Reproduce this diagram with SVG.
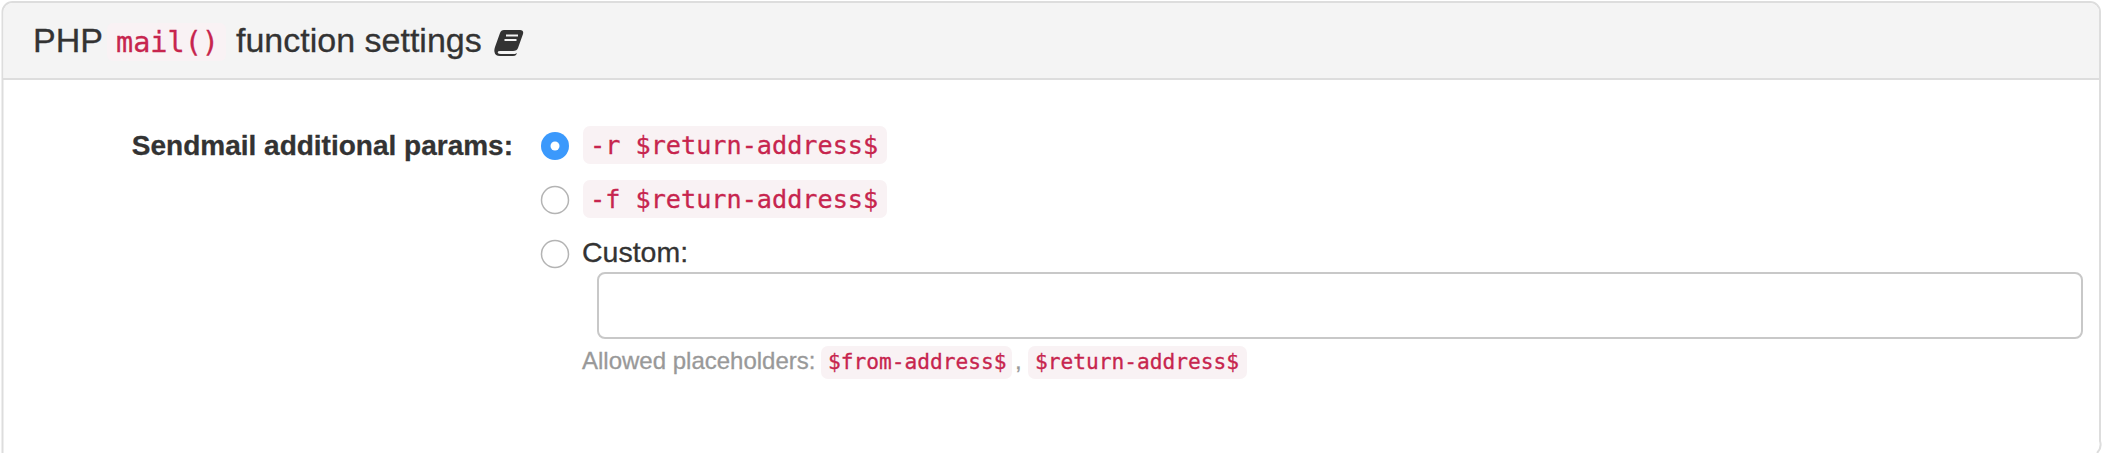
<svg xmlns="http://www.w3.org/2000/svg" width="2103" height="453" viewBox="0 0 2103 453">
<style>
.s{font-family:"Liberation Sans",Arial,sans-serif;fill:#333;stroke:#333;stroke-width:.3px}
.m{font-family:"DejaVu Sans Mono",monospace;fill:#c7254e;stroke:#c7254e;stroke-width:.3px;font-size:25.2px}
.g{fill:#999;stroke:#999}
.c{fill:#f9f2f4}
.r{fill:#fff;stroke:#b4b4b4;stroke-width:1.5}
</style>
<rect width="2103" height="453" fill="#fff"/>
<path d="M2.500 453V12a10 10 0 0 1 10-10H2090a10 10 0 0 1 10 10V441a12 12 0 0 1-3 12" fill="#fff" stroke="#ddd" stroke-width="2"/>
<g id="header">
<path d="M3.500 79V12a9 9 0 0 1 9-9H2090a9 9 0 0 1 9 9V79Z" fill="#f4f4f4"/>
<rect x="2" y="78" width="2098" height="2" fill="#ddd"/>
<text class="s" x="33" y="52" font-size="34">PHP</text>
<rect class="c" x="107" y="23" width="119" height="38" rx="6"/>
<text class="m" x="116" y="52" style="font-size:28.500px">mail()</text>
<text class="s" x="236" y="52" font-size="34">function settings</text>
<g transform="translate(1 -1)">
<path d="M503 31H519Q523 31 522 35L517 49Q516 52 512 52H499Q496 52 497 54Q497 55 500 55H514L516 54L515 56Q514 57 512 57H499Q494 57 493.500 53Q493 51 494 48L499 34Q500 31 503 31Z" fill="#333"/>
<path d="M505 36.500H517M503.500 41H515.500" stroke="#f4f4f4" stroke-width="2" fill="none"/>
</g>
</g>
<g id="label"><text class="s" x="513" y="155" font-size="28" font-weight="700" text-anchor="end">Sendmail additional params:</text></g>
<g id="option-r">
<circle cx="555" cy="146" r="14" fill="#3b99fc"/><circle cx="555" cy="146" r="4.500" fill="#fff"/>
<rect class="c" x="583" y="126" width="304" height="38" rx="7"/>
<text class="m" x="590" y="154">-r $return-address$</text>
</g>
<g id="option-f">
<circle class="r" cx="555" cy="200" r="13.500"/>
<rect class="c" x="583" y="180" width="304" height="38" rx="7"/>
<text class="m" x="590" y="208">-f $return-address$</text>
</g>
<g id="option-custom">
<circle class="r" cx="555" cy="254" r="13.500"/>
<text class="s" x="582" y="262" font-size="28.500">Custom:</text>
<rect x="598" y="273" width="1484" height="65" rx="7" fill="#fff" stroke="#c8c8c8" stroke-width="2"/>
</g>
<g id="help">
<text class="s g" x="582" y="369" font-size="24">Allowed placeholders:</text>
<rect class="c" x="821" y="346" width="191" height="33" rx="7"/>
<text class="m" x="828" y="369" style="font-size:21.200px">$from-address$</text>
<text class="s g" x="1015" y="369" font-size="24">,</text>
<rect class="c" x="1028" y="346" width="219" height="33" rx="7"/>
<text class="m" x="1035" y="369" style="font-size:21.200px">$return-address$</text>
</g>
</svg>
